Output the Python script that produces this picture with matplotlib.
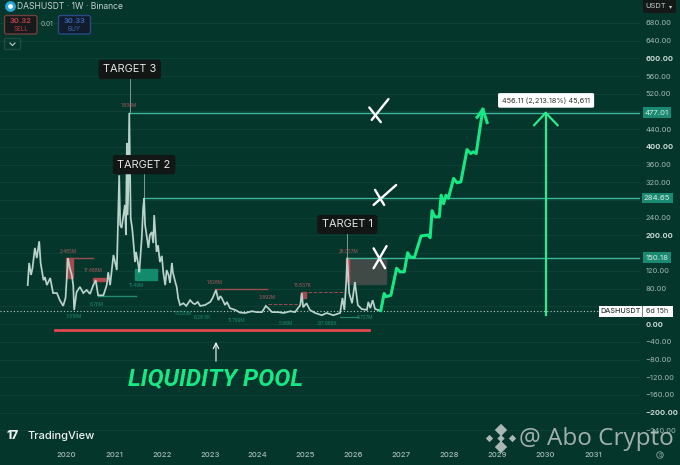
import matplotlib
matplotlib.use('Agg')
import matplotlib.pyplot as plt
from matplotlib.patches import FancyBboxPatch, Rectangle

BG = '#05362c'
GRID = '#0f4437'
TICK = '#a3bab2'
GREEN = '#16e884'
TEAL = '#3db597'
TAG = '#1b8a72'
RED = '#e0474f'
WICK = '#7f9c93'

# weekly price
years = [2019.20, 2019.23, 2019.27, 2019.30, 2019.35, 2019.39, 2019.44, 2019.47, 2019.53, 2019.56,
         2019.60, 2019.67, 2019.73, 2019.81, 2019.87, 2019.94, 2019.99, 2020.04, 2020.08, 2020.12,
         2020.15, 2020.17, 2020.22, 2020.29, 2020.36, 2020.43, 2020.50, 2020.57, 2020.62, 2020.67,
         2020.78, 2020.85, 2020.88, 2020.92, 2020.99, 2021.06, 2021.11, 2021.13, 2021.16, 2021.19,
         2021.23, 2021.25, 2021.27, 2021.28, 2021.30, 2021.32, 2021.35, 2021.38, 2021.40, 2021.44,
         2021.46, 2021.51, 2021.53, 2021.58, 2021.61, 2021.63, 2021.65, 2021.72, 2021.75, 2021.79,
         2021.82, 2021.84, 2021.89, 2021.92, 2021.96, 2022.00, 2022.03, 2022.07, 2022.10, 2022.14,
         2022.17, 2022.21, 2022.23, 2022.28, 2022.31, 2022.34, 2022.38, 2022.45, 2022.51, 2022.59,
         2022.65, 2022.69, 2022.75, 2022.80, 2022.90, 2023.01, 2023.06, 2023.13, 2023.18, 2023.22,
         2023.25, 2023.32, 2023.36, 2023.42, 2023.53, 2023.63, 2023.74, 2023.88, 2023.98, 2024.09,
         2024.17, 2024.22, 2024.30, 2024.43, 2024.54, 2024.68, 2024.78, 2024.89, 2024.92, 2024.95,
         2025.02, 2025.09, 2025.20, 2025.34, 2025.44, 2025.58, 2025.72, 2025.77, 2025.81, 2025.85,
         2025.87, 2025.91, 2025.97, 2026.03, 2026.09, 2026.17, 2026.28, 2026.31, 2026.35, 2026.40,
         2026.45, 2026.56]
prices = [88, 138, 111, 126, 172, 149, 187, 138, 99, 106,
          88, 104, 70, 70, 54, 41, 59, 149, 126, 111,
          88, 32, 72, 84, 70, 77, 68, 88, 99, 65,
          65, 88, 117, 88, 156, 122, 336, 224, 217, 239,
          269, 201, 409, 246, 303, 477, 239, 217, 194, 140,
          163, 133, 117, 194, 262, 284, 224, 172, 201, 208,
          183, 246, 163, 178, 140, 154, 117, 88, 122, 111,
          93, 138, 117, 95, 84, 59, 43, 47, 41, 54,
          47, 45, 50, 41, 43, 50, 59, 77, 54, 63,
          59, 43, 50, 36, 32, 26, 25, 29, 27, 27,
          41, 36, 27, 27, 25, 29, 27, 43, 70, 38,
          47, 32, 25, 20, 25, 20, 25, 59, 32, 99,
          150, 70, 47, 95, 43, 34, 32, 50, 36, 54,
          34, 30.33]

# hand drawn projection
proj_years = [2026.57, 2026.64, 2026.68, 2026.78, 2026.90, 2026.97, 2027.06, 2027.13, 2027.18, 2027.27,
              2027.41, 2027.56, 2027.60, 2027.64, 2027.70, 2027.79, 2027.83, 2027.88, 2027.93, 2027.98,
              2028.09, 2028.16, 2028.24, 2028.37, 2028.45, 2028.50, 2028.56, 2028.70]
proj_prices = [30.33, 69, 62, 65, 126, 118, 118, 161, 152, 150,
               199, 201, 195, 256, 242, 242, 291, 272, 291, 284,
               329, 319, 321, 394, 385, 389, 385, 485]
proj_head_years = [2028.58, 2028.70, 2028.79]
proj_head_prices = [467, 485, 455]

# target levels
levels = [477.01, 284.65, 150.18]
level_starts = [2021.33, 2021.63, 2025.87]
level_labels = ['477.01', '284.65', '150.18']
current_price = 30.33

target_names = ['TARGET 3', 'TARGET 2', 'TARGET 1']
target_years = [2021.33, 2021.63, 2025.87]
target_prices = [575, 360, 225]

# small volume labels: text, year, price, colour group
vol_text = ['2.485M', '17.488M', '1.838M', '1.828M', '3.892M', '18.837K', '26.057M',
            '11.49M', '6.76M', '3.516M', '5.020M', '6.28.5K', '11.799M', '5.96M', '317.966K', '8.727M']
vol_years = [2020.04, 2020.56, 2021.32, 2023.11, 2024.20, 2024.93, 2025.89,
             2021.46, 2020.65, 2020.17, 2022.44, 2022.84, 2023.57, 2024.59, 2025.45, 2026.24]
vol_prices = [165, 120, 494, 93, 59, 86, 165,
              86, 45, 16, 25, 14, 7, 2, 2, 14]
vol_is_red = [True] * 7 + [False] * 9

# x strokes over the targets
cross_a_x = [[2026.33, 2026.57], [2026.45, 2026.64], [2026.42, 2026.66]]
cross_a_y = [[489, 456], [303, 269], [171, 126]]
cross_b_x = [[2026.73, 2026.38], [2026.89, 2026.42], [2026.69, 2026.42]]
cross_b_y = [[508, 461], [314, 269], [176, 126]]

price_ticks = list(range(-240, 681, 40))
bold_ticks = [600, 400, 200, 0, -200]
covered_ticks = [480, 280, 160, 40]  # sit behind the price tags
year_ticks = list(range(2020, 2032))

W, H = 680, 465
fig = plt.figure(figsize=(W / 100, H / 100), dpi=100, facecolor=BG)
plt.rcParams['font.family'] = ['Inter', 'DejaVu Sans']


def tick_text(t):
    if t in covered_ticks:
        return ''
    return f'{t:.2f}' if t >= 0 else f'\u2212{-t:.2f}'


ax = fig.add_axes([0, 20 / H, 640 / W, 445 / H], facecolor=BG)
ax.set_xlim(2018.622, 2031.98)
ax.set_ylim(-273, 731.7)
for s in ax.spines.values():
    s.set_visible(False)

ax.yaxis.tick_right()
ax.set_yticks(price_ticks)
ax.set_yticklabels([tick_text(t) for t in price_ticks])
ax.tick_params(axis='y', length=0, pad=4, labelsize=5.4, labelcolor=TICK)
for lab, t in zip(ax.get_yticklabels(), price_ticks):
    if t in bold_ticks:
        lab.set_fontweight('bold')
        lab.set_color('#c9dad4')
ax.set_xticks(year_ticks)
ax.tick_params(axis='x', length=0, pad=5, labelsize=5.6, labelcolor=TICK)
for lab in ax.get_xticklabels():
    lab.set_fontweight('medium')
ax.grid(axis='y', color=GRID, lw=0.6)
ax.grid(axis='x', visible=False)
ax.set_axisbelow(True)

# zones behind the price
ax.add_patch(Rectangle((2025.87, 90), 0.81, 60, color='#3f4946', zorder=2))
ax.add_patch(Rectangle((2020.00, 104), 0.14, 46, color='#a34a4c', zorder=2))
ax.add_patch(Rectangle((2020.56, 97), 0.25, 7, color='#b34a4c', zorder=2))
ax.add_patch(Rectangle((2021.44, 100), 0.46, 24, color='#138a6c', zorder=2))
ax.add_patch(Rectangle((2024.90, 60), 0.10, 13, color='#a34a4c', zorder=2))
ax.add_patch(Rectangle((2025.85, 97), 0.06, 53, color='#c4454b', zorder=2))
ax.plot([2020.00, 2020.56], [150, 150], color='#9a4f4f', lw=1, zorder=2)
ax.plot([2023.11, 2024.20], [79, 79], color='#9a4f4f', lw=1, zorder=2)
ax.plot([2024.22, 2024.88], [45, 45], color='#9a4f4f', lw=0.7, ls='--', zorder=2)
ax.plot([2024.95, 2025.78], [72, 72], color='#9a4f4f', lw=0.7, ls='--', zorder=2)
ax.plot([2020.67, 2021.46], [63, 63], color='#1f8a70', lw=1, zorder=2)
ax.plot([2025.72, 2026.10], [16, 16], color='#1f8a70', lw=0.8, zorder=2)

# price
ax.plot(years, prices, color='#b9d3ca', lw=1.25, solid_joinstyle='miter', zorder=3)
ax.axhline(current_price, color='#b7cfc7', lw=0.8, ls=(0, (1, 2)), zorder=2.5)

# levels and tags
for lvl, start, lab in zip(levels, level_starts, level_labels):
    ax.plot([start, 2031.98], [lvl, lvl], color=TEAL, lw=1, zorder=2.8)
    ax.text(1.0266, lvl, lab, transform=ax.get_yaxis_transform(), ha='center', va='center',
            fontsize=5.6, color='#d5ece4', clip_on=False, zorder=6,
            bbox=dict(boxstyle='square,pad=0.3', fc=TAG, ec='none'))

# targets
for name, yr, p, lvl in zip(target_names, target_years, target_prices, levels):
    ax.plot([yr, yr], [lvl, p], color=WICK, lw=0.7, zorder=2.7)
    ax.text(yr, p, name, ha='center', va='center', fontsize=7.9, color='#e4e8e6', zorder=6,
            bbox=dict(boxstyle='round,pad=0.42,rounding_size=0.25', fc='#121614', ec='none'))

for t, yr, p, is_red in zip(vol_text, vol_years, vol_prices, vol_is_red):
    ax.text(yr, p, t, ha='center', va='center', fontsize=3.4,
            color='#a85b5c' if is_red else '#1d8a6f', zorder=4)

# projection
ax.plot(proj_years, proj_prices, color=GREEN, lw=2.2, solid_joinstyle='round', zorder=5)
ax.plot(proj_head_years, proj_head_prices, color=GREEN, lw=2.2, solid_joinstyle='round', zorder=5)

# measure arrow
ax.plot([2030.01, 2030.01], [20, 477], color='#2ceb8c', lw=1.6, zorder=5)
ax.plot([2029.77, 2030.01, 2030.26], [449, 477, 449], color='#2ceb8c', lw=1.6, zorder=5)
ax.text(2030.02, 505, '456.11 (2,213.18%) 45,611', ha='center', va='center', fontsize=5.3,
        color='#2b3331', zorder=6,
        bbox=dict(boxstyle='round,pad=0.55,rounding_size=0.2', fc='white', ec='none'))

# crosses
for xa, ya, xb, yb in zip(cross_a_x, cross_a_y, cross_b_x, cross_b_y):
    ax.plot(xa, ya, color='white', lw=1.7, solid_capstyle='round', zorder=6)
    ax.plot(xb, yb, color='white', lw=1.7, solid_capstyle='round', zorder=6)

# liquidity pool
ax.plot([2019.77, 2026.33], [-13.5, -13.5], color=RED, lw=2, zorder=5)
ax.annotate('', xy=(2023.13, -34), xytext=(2023.13, -90),
            arrowprops=dict(arrowstyle='->', color='white', lw=0.8, mutation_scale=10))
ax.text(2023.13, -124, 'LIQUIDITY POOL', ha='center', va='center', fontsize=17.4,
        fontweight='bold', fontstyle='italic', family='Roboto', color=GREEN, zorder=6)

# everything below is chart chrome, placed in pixels
ov = fig.add_axes([0, 0, 1, 1], facecolor='none')
ov.set_xlim(0, W)
ov.set_ylim(H, 0)
ov.axis('off')


def box(x0, y0, x1, y1, fc, ec='none', r=2):
    ov.add_patch(FancyBboxPatch((x0, y0), x1 - x0, y1 - y0, boxstyle=f'round,pad=0,rounding_size={r}',
                                fc=fc, ec=ec, lw=1))


ov.scatter([10], [6.5], s=60, color='#2aa6d8', linewidths=0)
ov.scatter([10], [6.5], s=12, color='white', linewidths=0)
ov.text(17, 6.5, 'DASHUSDT \u00b7 1W \u00b7 Binance', fontsize=6.2, color='#c3d0cc', va='center')
box(4.5, 15.5, 37, 34, '#17191a', '#70403f')
ov.text(21, 21, '30.32', fontsize=5.4, fontweight='bold', color='#b5414a', ha='center', va='center')
ov.text(21, 29, 'SELL', fontsize=4.6, color='#b5414a', ha='center', va='center')
ov.text(47, 24.5, '0.01', fontsize=4.8, color='#a3bab2', ha='center', va='center')
box(58.5, 15.5, 90.5, 34, '#111c2c', '#2a4a85')
ov.text(74.5, 21, '30.33', fontsize=5.4, fontweight='bold', color='#3763ad', ha='center', va='center')
ov.text(74.5, 29, 'BUY', fontsize=4.6, color='#3763ad', ha='center', va='center')
box(4.5, 38.5, 20.5, 49.5, 'none', '#1f4a3f', r=1)
ov.plot([10, 12.5, 15], [43, 45.5, 43], color='#c3d0cc', lw=0.8)

box(643, -3, 676, 13, '#141816', r=2)
ov.text(645.5, 6.5, 'USDT', fontsize=5.4, color='#c3d0cc', va='center')
ov.text(671, 6.5, '\u25be', fontsize=4.5, color='#c3d0cc', va='center', ha='center')

ov.add_patch(Rectangle((599, 306), 43, 10.5, fc='white', ec='none', zorder=7))
ov.add_patch(Rectangle((642.5, 306), 30, 10.5, fc='white', ec='none', zorder=7))
ov.plot([642, 642], [306, 316.5], color='#9fb0aa', lw=0.5, zorder=8)
ov.text(620.5, 311.3, 'DASHUSDT', fontsize=5.2, fontweight='medium', color='#2b3331', ha='center', va='center', zorder=8)
ov.text(657.5, 311.3, '6d 15h', fontsize=5.2, color='#2b3331', ha='center', va='center', zorder=8)

ov.text(6, 436, '17', fontsize=8.5, fontweight='heavy', color='#eef2f0', va='center')
ov.text(27, 436, 'TradingView', fontsize=8, fontweight='medium', color='#eef2f0', va='center')

# binance style mark and watermark
ov.scatter([501, 489.5, 512.5, 501, 501], [430, 438.5, 438.5, 447, 438.5], marker='D',
           s=[40, 14, 14, 40, 14], color='#c9cfcc', alpha=0.85, linewidths=0)
ov.text(519, 439, '@ Abo Crypto', fontsize=17.5, family='Open Sans', color='#cfd4d2', alpha=0.78, va='center')
ov.scatter([660], [455], s=22, facecolors='none', edgecolors='#8fa69f', linewidths=0.6)
ov.text(660, 455, '0', fontsize=3.8, color='#a3bab2', ha='center', va='center')

fig.savefig('out.png', dpi=100, facecolor=BG)
